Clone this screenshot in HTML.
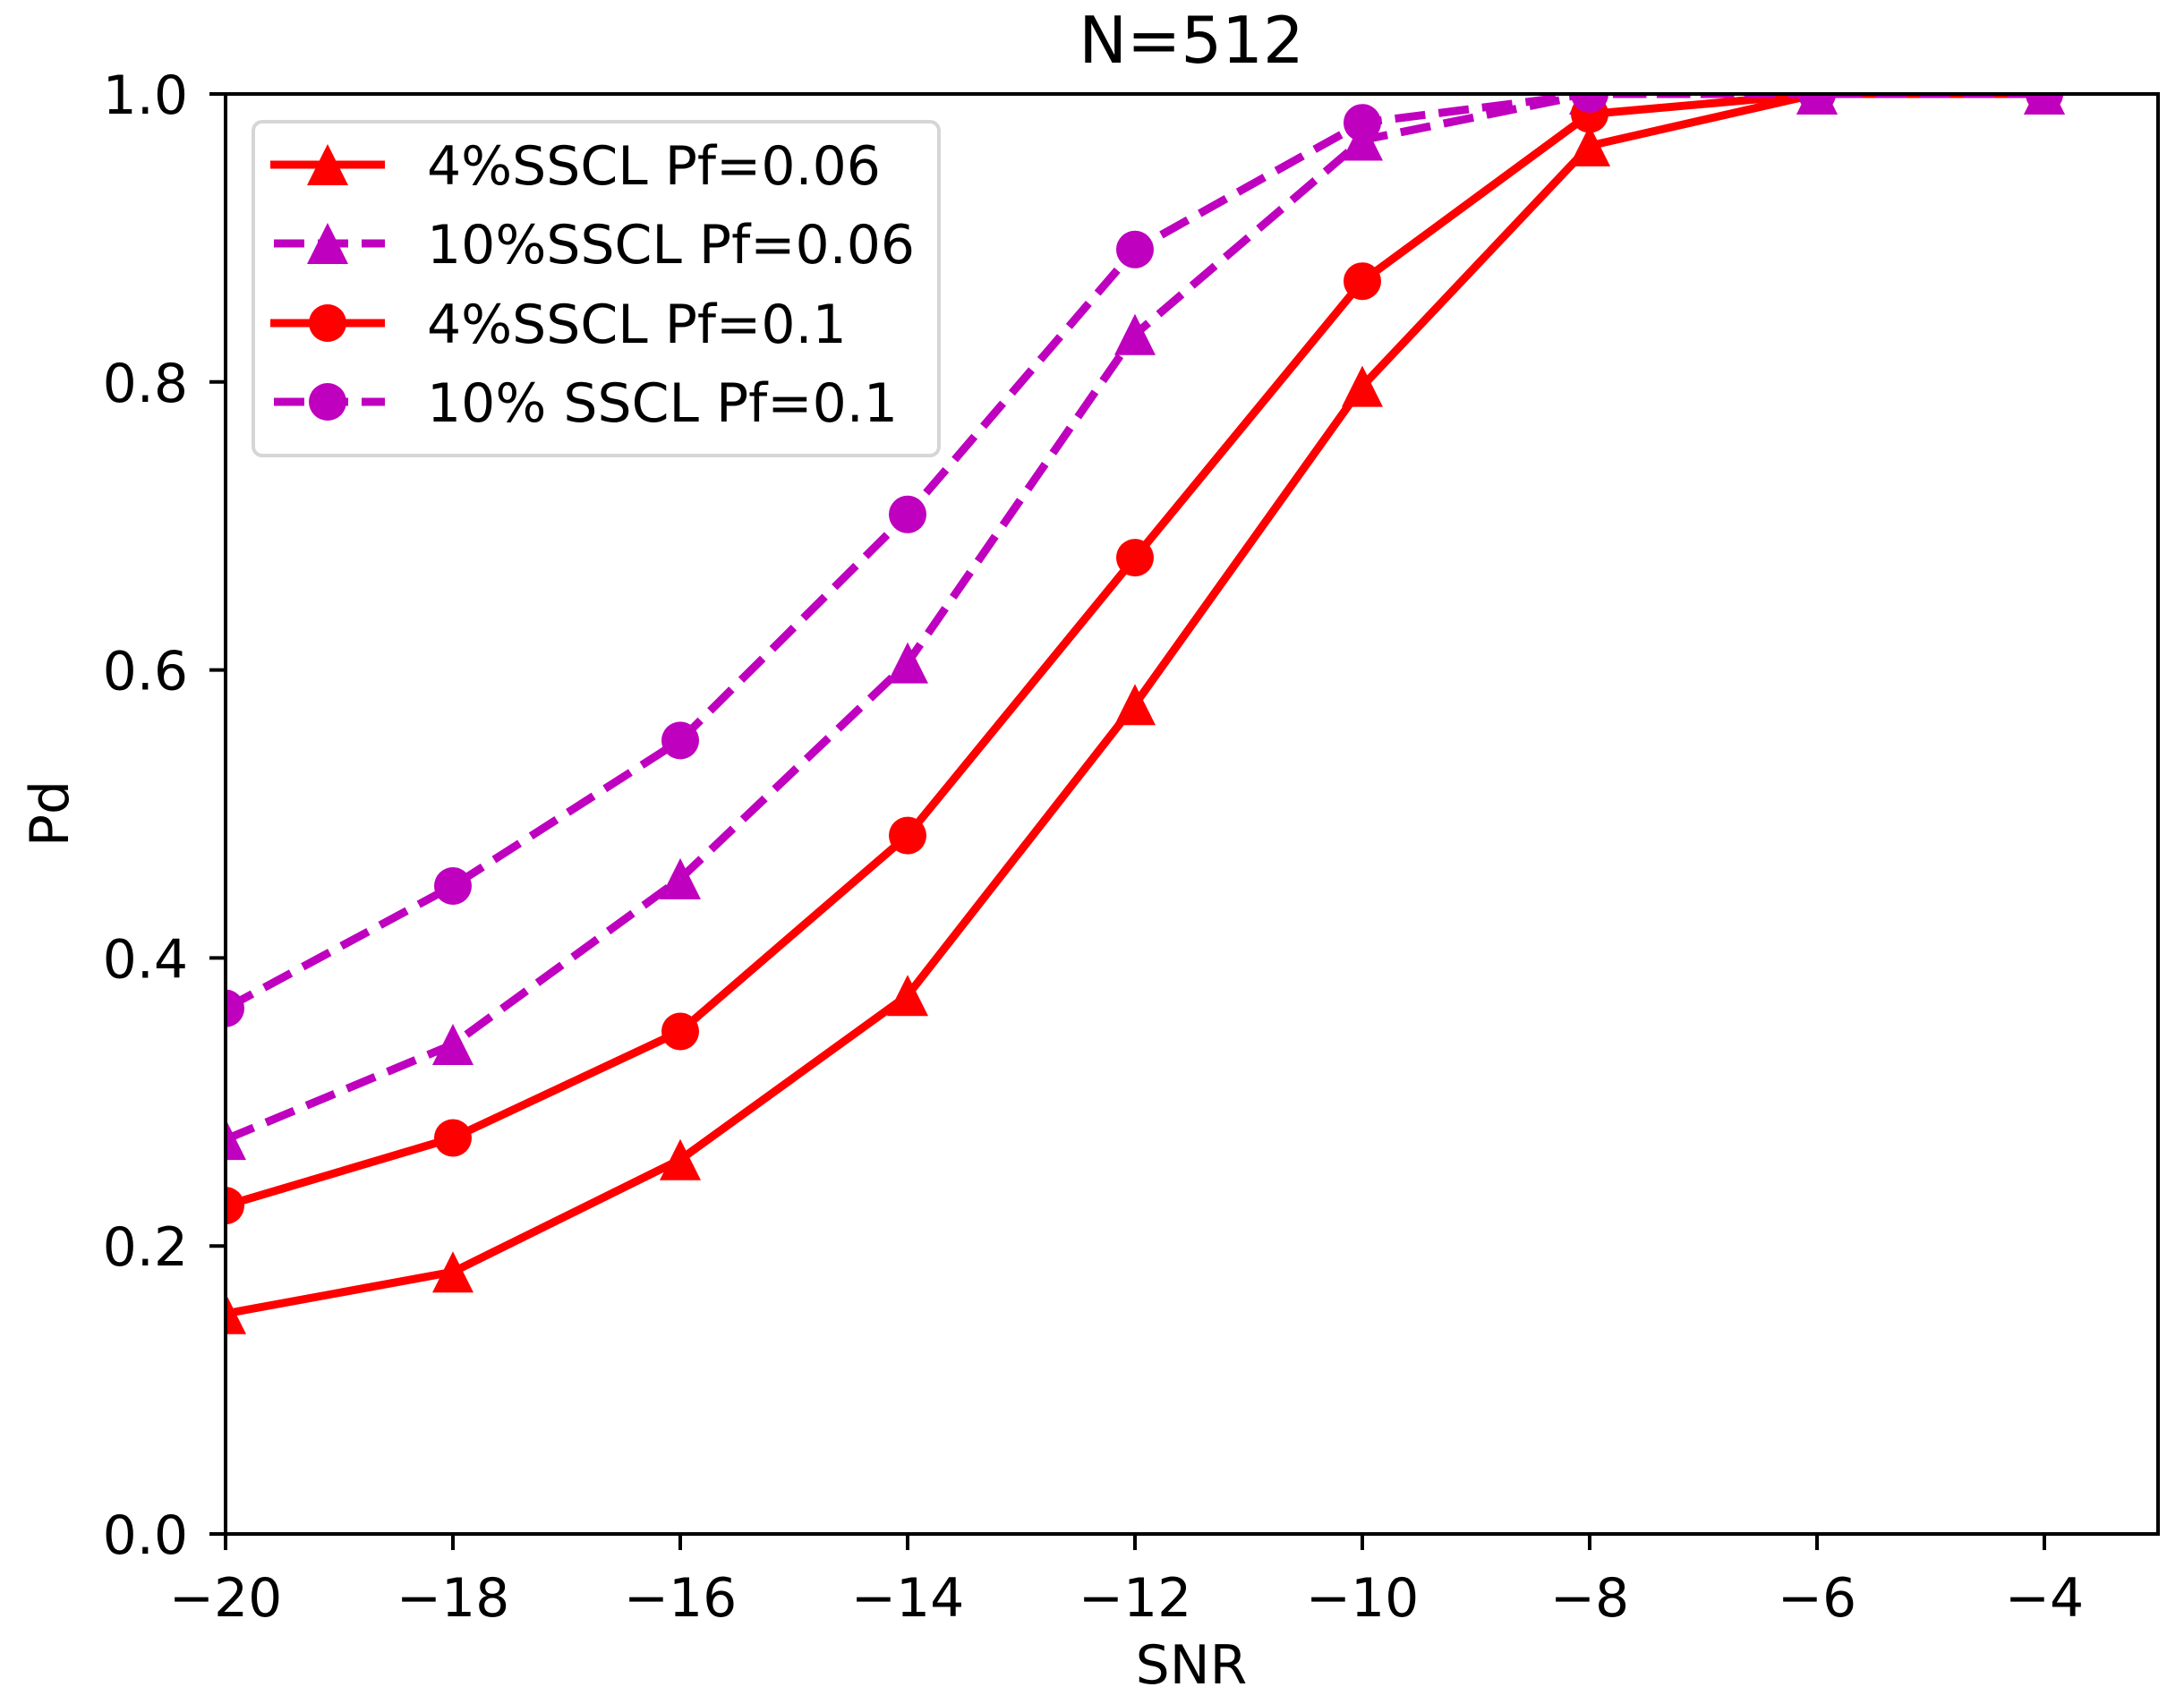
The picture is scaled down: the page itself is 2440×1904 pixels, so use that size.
<!DOCTYPE html>
<html><head><meta charset="utf-8"><style>html,body{margin:0;padding:0;background:#fff}svg{display:block}text{font-family:"DejaVu Sans","Liberation Sans",sans-serif;fill:#000}</style></head>
<body>
<svg width="2440" height="1904" viewBox="0 0 2440 1904" xmlns="http://www.w3.org/2000/svg">
<defs>
<clipPath id="c"><rect x="252" y="105" width="2159" height="1609"/></clipPath>
<path id="tr" d="M0,-23 L23,23 L-23,23 Z"/>
<circle id="ci" r="21"/>
</defs>
<rect width="2440" height="1904" fill="#fff"/>
<g clip-path="url(#c)" stroke-linejoin="round">
<polyline fill="none" stroke="#ff0000" stroke-width="9" points="252,1467.8 506,1421.2 760,1295.7 1014,1112.2 1268,787.2 1522,431.6 1776,162.9 2030,105 2284,105"/>
<g fill="#ff0000">
<use href="#tr" x="252" y="1467.8"/><use href="#tr" x="506" y="1421.2"/><use href="#tr" x="760" y="1295.7"/><use href="#tr" x="1014" y="1112.2"/><use href="#tr" x="1268" y="787.2"/><use href="#tr" x="1522" y="431.6"/><use href="#tr" x="1776" y="162.9"/><use href="#tr" x="2030" y="105"/><use href="#tr" x="2284" y="105"/>
</g>
<polyline fill="none" stroke="#bf00bf" stroke-width="9" stroke-dasharray="34,15" points="252,1273.1 506,1167 760,981.9 1014,740.6 1268,373.7 1522,156.5 1776,105 2030,105 2284,105"/>
<g fill="#bf00bf">
<use href="#tr" x="252" y="1273.1"/><use href="#tr" x="506" y="1167"/><use href="#tr" x="760" y="981.9"/><use href="#tr" x="1014" y="740.6"/><use href="#tr" x="1268" y="373.7"/><use href="#tr" x="1522" y="156.5"/><use href="#tr" x="1776" y="105"/><use href="#tr" x="2030" y="105"/><use href="#tr" x="2284" y="105"/>
</g>
<polyline fill="none" stroke="#ff0000" stroke-width="9" points="252,1347.1 506,1271.5 760,1152.5 1014,933.6 1268,623.1 1522,314.2 1776,127.5 2030,105 2284,105"/>
<g fill="#ff0000">
<use href="#ci" x="252" y="1347.1"/><use href="#ci" x="506" y="1271.5"/><use href="#ci" x="760" y="1152.5"/><use href="#ci" x="1014" y="933.6"/><use href="#ci" x="1268" y="623.1"/><use href="#ci" x="1522" y="314.2"/><use href="#ci" x="1776" y="127.5"/><use href="#ci" x="2030" y="105"/><use href="#ci" x="2284" y="105"/>
</g>
<polyline fill="none" stroke="#bf00bf" stroke-width="9" stroke-dasharray="34,15" points="252,1126.7 506,990 760,827.4 1014,574.8 1268,278.8 1522,137.2 1776,105 2030,105 2284,105"/>
<g fill="#bf00bf">
<use href="#ci" x="252" y="1126.7"/><use href="#ci" x="506" y="990"/><use href="#ci" x="760" y="827.4"/><use href="#ci" x="1014" y="574.8"/><use href="#ci" x="1268" y="278.8"/><use href="#ci" x="1522" y="137.2"/><use href="#ci" x="1776" y="105"/><use href="#ci" x="2030" y="105"/><use href="#ci" x="2284" y="105"/>
</g>
</g>
<rect x="252" y="105" width="2159" height="1609" fill="none" stroke="#000" stroke-width="4"/>
<g stroke="#000" stroke-width="4">
<line x1="252" y1="1714" x2="252" y2="1732"/><line x1="506" y1="1714" x2="506" y2="1732"/><line x1="760" y1="1714" x2="760" y2="1732"/><line x1="1014" y1="1714" x2="1014" y2="1732"/><line x1="1268" y1="1714" x2="1268" y2="1732"/><line x1="1522" y1="1714" x2="1522" y2="1732"/><line x1="1776" y1="1714" x2="1776" y2="1732"/><line x1="2030" y1="1714" x2="2030" y2="1732"/><line x1="2284" y1="1714" x2="2284" y2="1732"/>
<line x1="234" y1="1714" x2="252" y2="1714"/><line x1="234" y1="1392.2" x2="252" y2="1392.2"/><line x1="234" y1="1070.4" x2="252" y2="1070.4"/><line x1="234" y1="748.6" x2="252" y2="748.6"/><line x1="234" y1="426.8" x2="252" y2="426.8"/><line x1="234" y1="105" x2="252" y2="105"/>
</g>
<g font-size="60" text-anchor="middle">
<text x="252" y="1806">−20</text><text x="506" y="1806">−18</text><text x="760" y="1806">−16</text><text x="1014" y="1806">−14</text><text x="1268" y="1806">−12</text><text x="1522" y="1806">−10</text><text x="1776" y="1806">−8</text><text x="2030" y="1806">−6</text><text x="2284" y="1806">−4</text>
</g>
<g font-size="60" text-anchor="end">
<text x="210" y="1736">0.0</text><text x="210" y="1414.2">0.2</text><text x="210" y="1092.4">0.4</text><text x="210" y="770.6">0.6</text><text x="210" y="448.8">0.8</text><text x="210" y="127">1.0</text>
</g>
<text x="1331" y="1881" font-size="60" text-anchor="middle">SNR</text>
<text transform="translate(76,909) rotate(-90)" font-size="60" text-anchor="middle">Pd</text>
<text x="1331" y="70" font-size="72" text-anchor="middle">N=512</text>
<rect x="283" y="136" width="766" height="373" rx="10" fill="#fff" fill-opacity="0.8" stroke="#d6d6d6" stroke-width="4"/>
<line x1="302" y1="184" x2="430" y2="184" stroke="#ff0000" stroke-width="9"/><use href="#tr" x="366" y="184" fill="#ff0000"/>
<line x1="306" y1="272" x2="430" y2="272" stroke="#bf00bf" stroke-width="9" stroke-dasharray="34,15"/><use href="#tr" x="366" y="272" fill="#bf00bf"/>
<line x1="302" y1="361" x2="430" y2="361" stroke="#ff0000" stroke-width="9"/><use href="#ci" x="366" y="361" fill="#ff0000"/>
<line x1="306" y1="449" x2="430" y2="449" stroke="#bf00bf" stroke-width="9" stroke-dasharray="34,15"/><use href="#ci" x="366" y="449" fill="#bf00bf"/>
<g font-size="60">
<text x="477" y="206">4%SSCL Pf=0.06</text>
<text x="477" y="294">10%SSCL Pf=0.06</text>
<text x="477" y="383">4%SSCL Pf=0.1</text>
<text x="477" y="471">10% SSCL Pf=0.1</text>
</g>
</svg>
</body></html>
